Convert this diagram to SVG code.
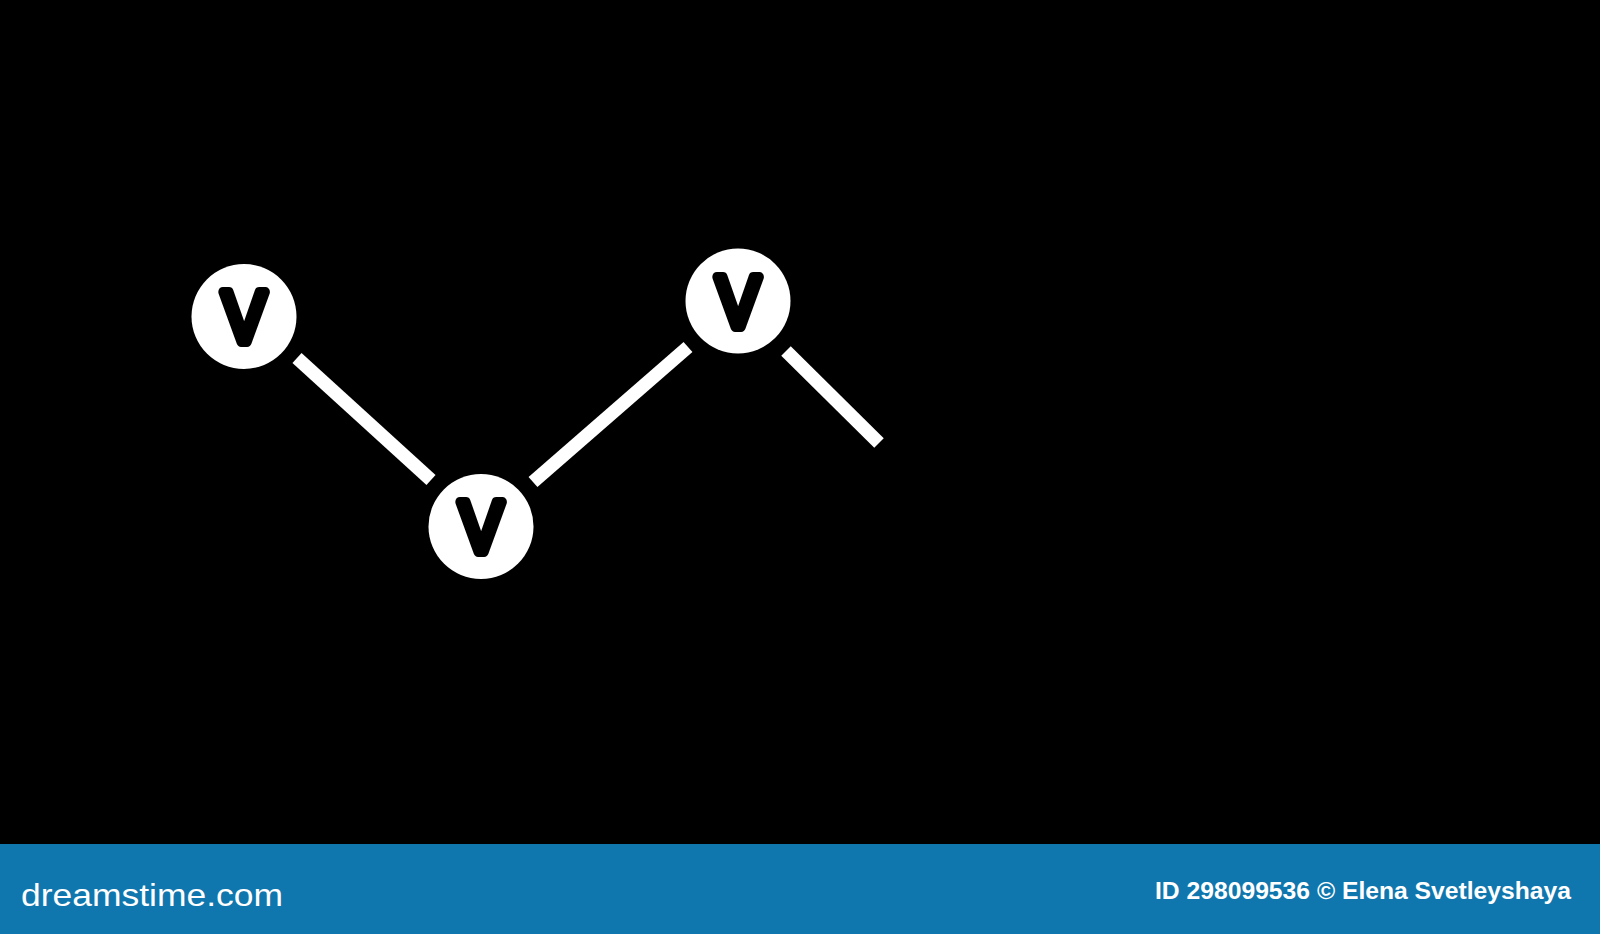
<svg xmlns="http://www.w3.org/2000/svg" width="1600" height="934" viewBox="0 0 1600 934">
  <style>
    .node circle { fill: #ffffff; }
    .node text { font-family: "Liberation Sans", "DejaVu Sans", sans-serif; font-weight: normal; font-size: 72px; fill: #000000; stroke: #000000; stroke-width: 10; stroke-linejoin: round; stroke-linecap: round; text-anchor: middle; }
    .edge { stroke: #ffffff; stroke-width: 13.5; stroke-linecap: butt; fill: none; }
    .footer-text { font-family: "Liberation Sans", "DejaVu Sans", sans-serif; fill: #ffffff; }
  </style>
  <rect x="0" y="0" width="1600" height="934" fill="#000000"/>

  <g id="connectors">
    <line class="edge" x1="297" y1="358" x2="431" y2="480"/>
    <line class="edge" x1="533" y1="482" x2="688" y2="347"/>
    <line class="edge" x1="786" y1="351" x2="879" y2="443"/>
  </g>

  <g id="node1" class="node">
    <circle cx="244" cy="316.5" r="52.5"/>
    <text transform="translate(244 342) scale(0.9 1)" x="0" y="0">V</text>
  </g>
  <g id="node2" class="node">
    <circle cx="481" cy="526.5" r="52.5"/>
    <text transform="translate(481 552) scale(0.9 1)" x="0" y="0">V</text>
  </g>
  <g id="node3" class="node">
    <circle cx="738" cy="301" r="52.5"/>
    <text transform="translate(738 327) scale(0.9 1)" x="0" y="0">V</text>
  </g>

  <g id="footer">
    <rect x="0" y="844" width="1600" height="90" fill="#0f77ae"/>
    <text class="footer-text" x="21" y="906" font-size="32" textLength="262" lengthAdjust="spacingAndGlyphs">dreamstime.com</text>
    <text class="footer-text" x="1155" y="899" font-size="24" font-weight="bold" textLength="416" lengthAdjust="spacingAndGlyphs">ID 298099536 © Elena Svetleyshaya</text>
  </g>
</svg>
